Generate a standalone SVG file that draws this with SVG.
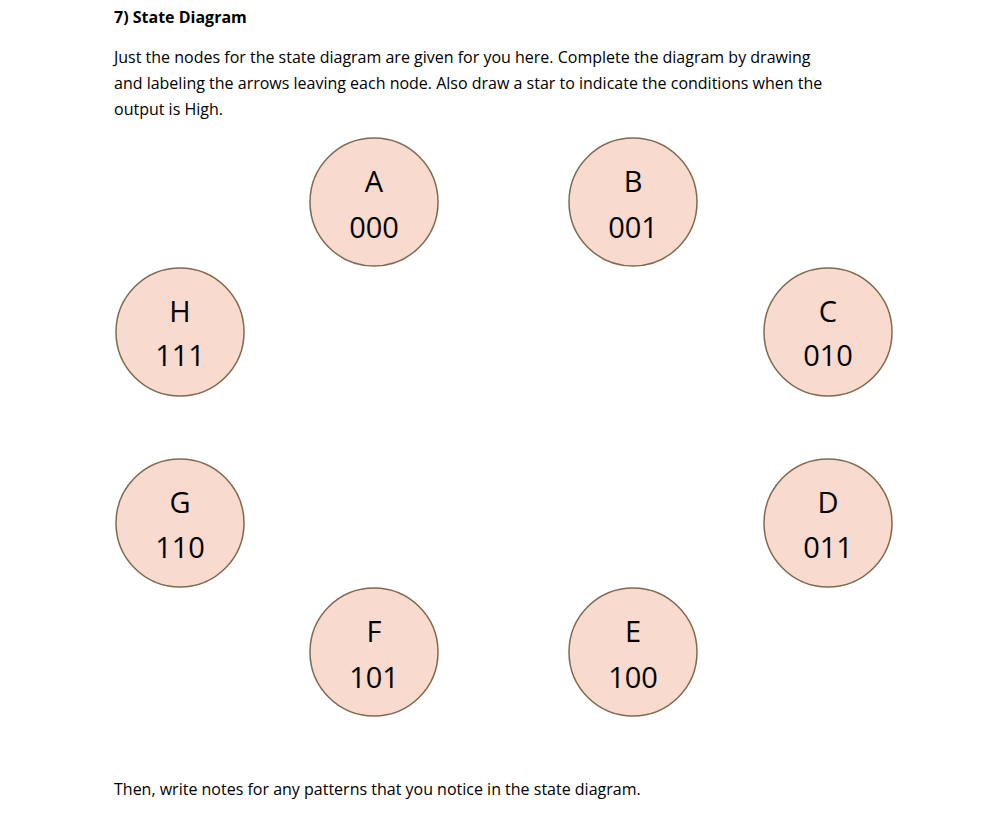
<svg xmlns="http://www.w3.org/2000/svg" width="1005" height="827" viewBox="0 0 1005 827">
<style>
.t{font-family:"Open Sans","Liberation Sans",sans-serif;font-size:16px;fill:#000}
.n circle{fill:#f8dace;stroke:#7f6a4f;stroke-width:1.5}
.n text{font-family:"Open Sans","Liberation Sans",sans-serif;font-size:29px;fill:#000;text-anchor:middle}
</style>
<rect width="1005" height="827" fill="#fff"/>
<text class="t" x="114" y="23" font-weight="bold">7) State Diagram</text>
<text class="t" x="114" y="63">Just the nodes for the state diagram are given for you here. Complete the diagram by drawing</text>
<text class="t" x="114" y="89">and labeling the arrows leaving each node. Also draw a star to indicate the conditions when the</text>
<text class="t" x="114" y="115">output is High.</text>
<g id="A" class="n"><circle cx="374" cy="202" r="64"/><text x="374" y="192">A</text><text x="374" y="238">000</text></g>
<g id="B" class="n"><circle cx="633" cy="202" r="64"/><text x="633" y="192">B</text><text x="633" y="238">001</text></g>
<g id="H" class="n"><circle cx="180" cy="332" r="64"/><text x="180" y="322">H</text><text x="180" y="366">111</text></g>
<g id="C" class="n"><circle cx="828" cy="332" r="64"/><text x="828" y="322">C</text><text x="828" y="366">010</text></g>
<g id="G" class="n"><circle cx="180" cy="523" r="64"/><text x="180" y="513">G</text><text x="180" y="558">110</text></g>
<g id="D" class="n"><circle cx="828" cy="523" r="64"/><text x="828" y="513">D</text><text x="828" y="558">011</text></g>
<g id="F" class="n"><circle cx="374" cy="652" r="64"/><text x="374" y="642">F</text><text x="374" y="688">101</text></g>
<g id="E" class="n"><circle cx="633" cy="652" r="64"/><text x="633" y="642">E</text><text x="633" y="688">100</text></g>
<g id="connectors"></g>
<text class="t" x="114" y="795">Then, write notes for any patterns that you notice in the state diagram.</text>
</svg>
